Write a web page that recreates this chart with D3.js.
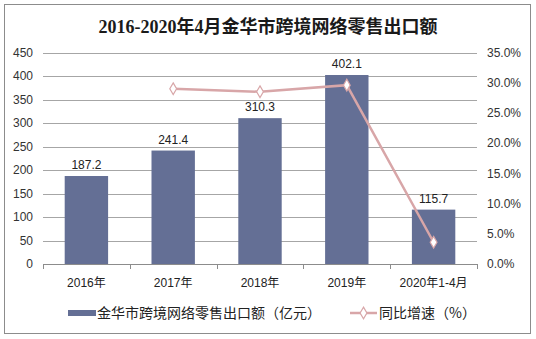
<!DOCTYPE html>
<html>
<head>
<meta charset="utf-8">
<script src="https://cdn.jsdelivr.net/npm/d3@7/dist/d3.min.js"></script>
<style>
  html, body { margin: 0; padding: 0; background: #fff; }
  svg { display: block; }
</style>
</head>
<body>
<svg id="chart" width="536" height="339"></svg>
<script>
// Export value by year (亿元) and year-on-year growth (%)
const categories = ["2016年", "2017年", "2018年", "2019年", "2020年1-4月"];
const exportValues = [187.2, 241.4, 310.3, 402.1, 115.7];
const growthRates = [null, 29.0, 28.5, 29.6, 3.6];
const leftTicks = [0, 50, 100, 150, 200, 250, 300, 350, 400, 450];
const rightTicks = [0, 5, 10, 15, 20, 25, 30, 35];

const title = "2016-2020年4月金华市跨境网络零售出口额";
const barLegend = "金华市跨境网络零售出口额（亿元）";
const lineLegend = "同比增速（%）";

const barColor = "#646f95";
const lineColor = "#d8a6a8";
const gridColor = "#a6a6a6";
const sansFont = "'Liberation Sans', Arial, 'Noto Sans CJK SC', sans-serif";

const svg = d3.select("#chart");

// outer frame
svg.append("rect")
  .attr("x", 4.5).attr("y", 4.5)
  .attr("width", 526).attr("height", 329)
  .attr("fill", "#fff").attr("stroke", "#8c8c8c").attr("stroke-width", 1);

// title
svg.append("text")
  .attr("x", 268).attr("y", 33)
  .attr("text-anchor", "middle")
  .attr("font-family", "'Liberation Serif', 'Times New Roman', 'Noto Sans CJK SC', serif")
  .attr("font-weight", "bold")
  .attr("font-size", 18)
  .attr("fill", "#1a1a1a")
  .text(title);

const plot = { left: 43, right: 477, top: 52.5, bottom: 264 };

const x = d3.scaleBand()
  .domain(categories)
  .range([plot.left, plot.right])
  .paddingInner(0.5)
  .paddingOuter(0.25);

const yLeft = d3.scaleLinear().domain([0, 450]).range([plot.bottom, plot.top]);
const yRight = d3.scaleLinear().domain([0, 35]).range([plot.bottom, plot.top]);

// horizontal gridlines
svg.append("g")
  .selectAll("line")
  .data(leftTicks.filter(d => d > 0))
  .join("line")
  .attr("x1", plot.left).attr("x2", plot.right)
  .attr("y1", d => Math.round(yLeft(d)) + 0.5)
  .attr("y2", d => Math.round(yLeft(d)) + 0.5)
  .attr("stroke", gridColor).attr("stroke-width", 1);

// left axis labels
const leftAxis = d3.axisLeft(yLeft).tickValues(leftTicks).tickSize(0).tickPadding(10);
svg.append("g")
  .attr("transform", `translate(${plot.left},0)`)
  .call(leftAxis)
  .call(g => g.select(".domain").remove())
  .call(g => g.selectAll("text")
    .attr("font-family", sansFont).attr("font-size", 12).attr("fill", "#333"));

// right axis labels
const rightAxis = d3.axisRight(yRight).tickValues(rightTicks).tickSize(0).tickPadding(10)
  .tickFormat(d => d.toFixed(1) + "%");
svg.append("g")
  .attr("transform", `translate(${plot.right},0)`)
  .call(rightAxis)
  .call(g => g.select(".domain").remove())
  .call(g => g.selectAll("text")
    .attr("font-family", sansFont).attr("font-size", 12).attr("fill", "#333"));

// bars
svg.append("g")
  .selectAll("rect")
  .data(categories)
  .join("rect")
  .attr("x", d => x(d))
  .attr("width", x.bandwidth())
  .attr("y", (d, i) => yLeft(exportValues[i]))
  .attr("height", (d, i) => plot.bottom - yLeft(exportValues[i]))
  .attr("fill", barColor);

// bar value labels
svg.append("g")
  .selectAll("text")
  .data(categories)
  .join("text")
  .attr("x", d => x(d) + x.bandwidth() / 2)
  .attr("y", (d, i) => yLeft(exportValues[i]) - 7)
  .attr("text-anchor", "middle")
  .attr("font-family", sansFont).attr("font-size", 12).attr("fill", "#222")
  .text((d, i) => exportValues[i].toFixed(1));

// bottom axis with band boundary ticks
svg.append("line")
  .attr("x1", plot.left).attr("x2", plot.right)
  .attr("y1", plot.bottom + 0.5).attr("y2", plot.bottom + 0.5)
  .attr("stroke", "#8c8c8c");
const boundaries = d3.range(categories.length + 1).map(i => plot.left + i * (plot.right - plot.left) / categories.length);
svg.append("g")
  .selectAll("line")
  .data(boundaries)
  .join("line")
  .attr("x1", d => Math.round(d) + 0.5).attr("x2", d => Math.round(d) + 0.5)
  .attr("y1", plot.bottom).attr("y2", plot.bottom + 5)
  .attr("stroke", "#8c8c8c");

svg.append("g")
  .selectAll("text")
  .data(categories)
  .join("text")
  .attr("x", d => x(d) + x.bandwidth() / 2)
  .attr("y", 287)
  .attr("text-anchor", "middle")
  .attr("font-family", sansFont).attr("font-size", 12).attr("fill", "#222")
  .text(d => d);

// growth line
const pts = categories.map((c, i) => ({ c, v: growthRates[i] })).filter(p => p.v !== null);
const line = d3.line()
  .x(p => x(p.c) + x.bandwidth() / 2)
  .y(p => yRight(p.v));
svg.append("path")
  .datum(pts)
  .attr("d", line)
  .attr("fill", "none")
  .attr("stroke", lineColor)
  .attr("stroke-width", 2.5);

const diamond = d3.symbol().type(d3.symbolDiamond).size(40);
svg.append("g")
  .selectAll("path")
  .data(pts)
  .join("path")
  .attr("transform", p => `translate(${x(p.c) + x.bandwidth() / 2},${yRight(p.v)})`)
  .attr("d", diamond)
  .attr("fill", "#fff")
  .attr("stroke", lineColor)
  .attr("stroke-width", 1.2);

// legend
const legendY = 313;
svg.append("rect")
  .attr("x", 68).attr("y", legendY - 3).attr("width", 28).attr("height", 6)
  .attr("fill", barColor);
svg.append("text")
  .attr("x", 97).attr("y", legendY + 5)
  .attr("font-family", "'Noto Sans CJK SC', sans-serif").attr("font-size", 14).attr("fill", "#222")
  .text(barLegend);

svg.append("line")
  .attr("x1", 350).attr("x2", 377)
  .attr("y1", legendY).attr("y2", legendY)
  .attr("stroke", lineColor).attr("stroke-width", 2.5);
svg.append("path")
  .attr("transform", `translate(363.5,${legendY})`)
  .attr("d", diamond)
  .attr("fill", "#fff").attr("stroke", lineColor).attr("stroke-width", 1.2);
svg.append("text")
  .attr("x", 379).attr("y", legendY + 5)
  .attr("font-family", "'Noto Sans CJK SC', sans-serif").attr("font-size", 14).attr("fill", "#222")
  .text(lineLegend);
</script>
</body>
</html>
